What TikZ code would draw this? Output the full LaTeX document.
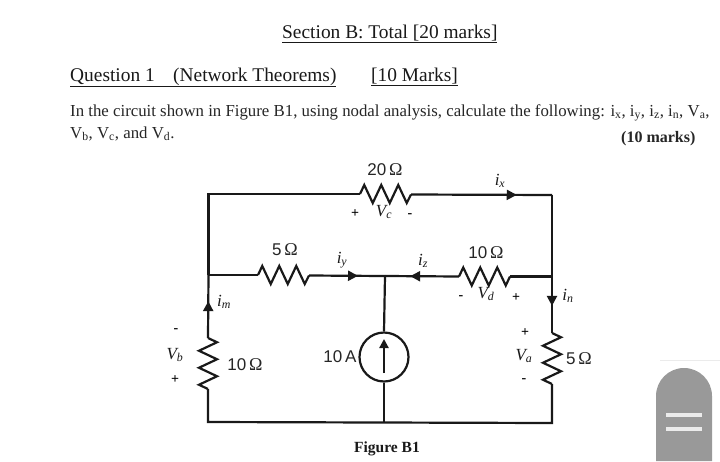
\documentclass[tikz,border=0pt]{standalone}
\usepackage{fontspec}
\setmainfont{Liberation Serif}
\newfontfamily\lab{Liberation Sans}
\usetikzlibrary{arrows.meta,decorations.markings}
\tikzset{
 wire/.style={line width=2.2pt,line join=miter,draw=black!90},
 heading/.style={anchor=base west,inner sep=0,font=\fontsize{19.4}{22}\selectfont,text=black!90},
 para/.style={anchor=base west,inner sep=0,font=\fontsize{16.8}{20}\selectfont,text=black!85},
 val/.style={inner sep=0,font=\lab\fontsize{17}{20}\selectfont,text=black!85},
 sym/.style={inner sep=0,font=\itshape\fontsize{17}{20}\selectfont,text=black!90},
 pol/.style={inner sep=0,font=\bfseries\fontsize{14}{16}\selectfont,text=black},
 tip/.style={postaction={decorate},decoration={markings,mark=at position #1 with {\arrow[black!90]{Triangle[length=10pt,width=10pt]}}}},
}
\newcommand{\ohm}{{\rmfamily\fontsize{18}{20}\selectfont Ω}}
\newcommand{\hzig}[2]{\draw[wire] (#1) -- ++(4.25,-9) -- ++(8.5,18) -- ++(8.5,-18) -- ++(8.5,18) -- ++(8.5,-18) -- ++(8.5,18) -- (#2);}
\newcommand{\vzig}[2]{\draw[wire] (#1) -- ++(9,4.25) -- ++(-18,8.5) -- ++(18,8.5) -- ++(-18,8.5) -- ++(18,8.5) -- ++(-18,8.5) -- (#2);}
\begin{document}
\begin{tikzpicture}[x=1pt,y=-1pt]
\useasboundingbox (0,0) rectangle (720,461);
\fill[white] (0,0) rectangle (720,461);
% texts
\node[heading] (sec) at (282,38) {\underline{Section B: Total [20 marks]}};
\node[heading] (q1) at (70,81) {\underline{Question 1\hspace{0.95em}(Network Theorems)}};
\node[heading] (q2) at (371,81) {\underline{[10 Marks]}};
\node[para] (p1) at (70,116) {In the circuit shown in Figure B1, using nodal analysis, calculate the following: i\textsubscript{x}, i\textsubscript{y}, i\textsubscript{z}, i\textsubscript{n}, V\textsubscript{a},};
\node[para] (p2) at (70,138) {V\textsubscript{b}, V\textsubscript{c}, and V\textsubscript{d}.};
\node[para,font=\bfseries\fontsize{16}{19}\selectfont] (p3) at (621,142) {(10 marks)};
\node[heading,font=\bfseries\fontsize{15.5}{18}\selectfont] (fig) at (354,452) {Figure B1};
% junctions
\coordinate (tl) at (208.5,194);
\coordinate (tr) at (552,195);
\coordinate (ml) at (208.5,275);
\coordinate (mm) at (385,276);
\coordinate (mr) at (552,276.5);
\coordinate (bl) at (208,422);
\coordinate (bm) at (384,422);
\coordinate (br) at (552,423);
\coordinate (r20a) at (360,194);
\coordinate (r20b) at (411,194.5);
\coordinate (r5a) at (258,275);
\coordinate (r5b) at (309,275.5);
\coordinate (r10a) at (459,276.5);
\coordinate (r10b) at (510,276.5);
\coordinate (rba) at (208,338);
\coordinate (rbb) at (208,389);
\coordinate (raa) at (552,333);
\coordinate (rab) at (552,384);
\node[circle,draw=black!90,line width=2.2pt,minimum size=49pt,inner sep=0] (src) at (384,357) {};
% wires
\draw[wire] (r20a) -- (tl) -- (ml);
\draw[wire,tip=0.75] (r20b) -- (tr);
\draw[wire] (tr) -- (mr);
\draw[wire] (ml) -- (r5a);
\draw[wire,tip=0.645] (r5b) -- (mm);
\draw[wire,tip=0.66] (r10a) -- (mm);
\draw[wire] (mr) -- (r10b);
\draw[wire,tip=0.52] (mr) -- (raa);
\draw[wire,tip=0.585] (rba) -- (ml);
\draw[wire] (rbb) -- (bl) -- (br) -- (rab);
\draw[wire] (mm) -- (src.north);
\draw[wire] (src.south) -- (bm);
\hzig{r20a}{r20b}
\hzig{r5a}{r5b}
\hzig{r10a}{r10b}
\vzig{rba}{rbb}
\vzig{raa}{rab}
\coordinate (sa) at (384,373);
\coordinate (sb) at (384,339);
\draw[wire,-{Triangle[length=9pt,width=9pt]}] (sa) -- (sb);
% labels
\node[val] (l20) at (385,170) {20\,\ohm};
\node[val] (l5) at (285,250) {5\,\ohm};
\node[val] (l10) at (486,253) {10\,\ohm};
\node[val] (l10b) at (245,365) {10\,\ohm};
\node[val] (l10a) at (340,357) {10\,A};
\node[val] (l5a) at (579,359) {5\,\ohm};
\node[sym] (ix) at (500,181) {i\textsubscript{x}};
\node[sym] (iy) at (342,260) {i\textsubscript{y}};
\node[sym] (iz) at (423,261) {i\textsubscript{z}};
\node[sym] (in) at (568,296) {i\textsubscript{n}};
\node[sym] (im) at (224,302) {i\textsubscript{m}};
\node[sym] (vc) at (384,212) {V\textsubscript{c}};
\node[sym] (vd) at (486,294) {V\textsubscript{d}};
\node[sym] (vb) at (175,355) {V\textsubscript{b}};
\node[sym] (va) at (524,356) {V\textsubscript{a}};
\node[pol] (c1) at (355,214) {+};
\node[pol] (c2) at (410,216) {-};
\node[pol] (d1) at (461,298) {-};
\node[pol] (d2) at (516,298) {+};
\node[pol] (b1) at (176,331) {-};
\node[pol] (b2) at (175,380) {+};
\node[pol] (a1) at (525,333) {+};
\node[pol] (a2) at (524,381) {-};
% overlay pill
\draw[black!8,line width=.6pt] (660,360.5) -- (720,360.5);
\fill[black!40] (656,461) -- (656,396) arc[start angle=180,end angle=360,radius=28] -- (712,461) -- cycle;
\fill[black!8] (666,413) rectangle (702,416.5);
\fill[black!8] (666,427) rectangle (702,430.5);
\end{tikzpicture}
\end{document}
